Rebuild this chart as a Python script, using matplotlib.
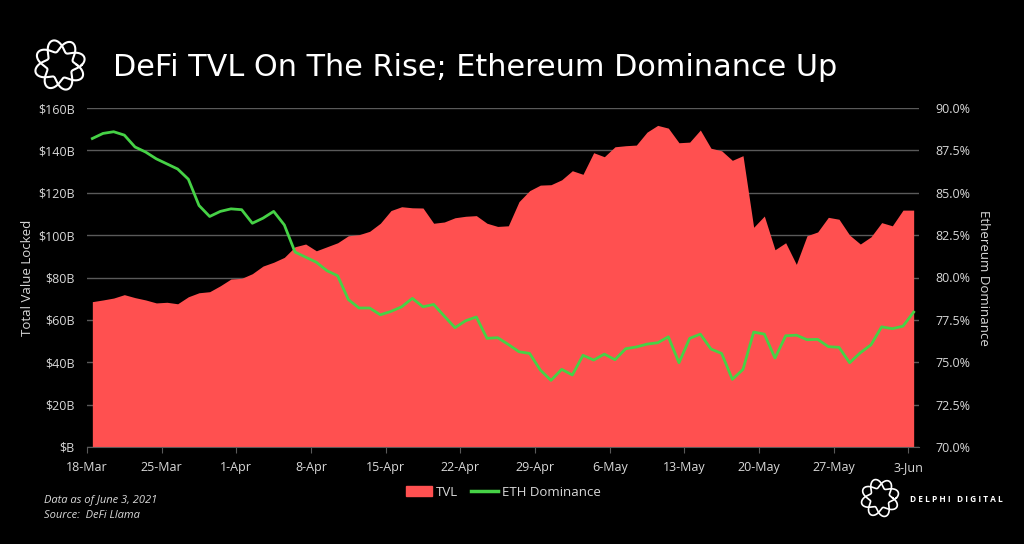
import numpy as np
import matplotlib
matplotlib.use("Agg")
import matplotlib.pyplot as plt
from matplotlib.lines import Line2D
from matplotlib.patches import Patch

# ---- data ----
dates = ["18-Mar", "25-Mar", "1-Apr", "8-Apr", "15-Apr", "22-Apr", "29-Apr",
         "6-May", "13-May", "20-May", "27-May", "3-Jun"]
tvl = [68.6, 69.4, 70.3, 71.9, 70.5, 69.4, 68.0, 68.3, 67.6, 70.9,
       72.8, 73.3, 76.1, 79.3, 79.6, 81.8, 85.4, 87.2, 89.5, 94.5,
       95.8, 92.6, 94.5, 96.4, 99.7, 100.2, 101.8, 105.6, 111.6, 113.4,
       112.9, 112.8, 105.6, 106.2, 108.2, 108.9, 109.2, 105.6, 104.1, 104.4,
       115.8, 121.0, 123.6, 123.8, 126.1, 130.4, 128.7, 138.9, 137.0, 141.7,
       142.2, 142.5, 148.6, 151.8, 150.5, 143.6, 143.9, 149.6, 141.0, 139.8,
       135.3, 137.5, 103.7, 109.0, 93.1, 96.4, 86.2, 99.7, 101.5, 108.4,
       107.5, 100.0, 95.8, 99.2, 105.9, 104.4, 111.8, 111.8]
eth = [88.2, 88.5, 88.6, 88.4, 87.7, 87.4, 87.0, 86.7, 86.4, 85.8,
       84.25, 83.6, 83.9, 84.05, 84.0, 83.2, 83.5, 83.9, 83.1, 81.5,
       81.2, 80.9, 80.4, 80.1, 78.7, 78.2, 78.2, 77.8, 78.0, 78.27,
       78.77, 78.27, 78.41, 77.72, 77.04, 77.45, 77.67, 76.41, 76.45, 76.05,
       75.62, 75.52, 74.54, 73.93, 74.58, 74.25, 75.41, 75.13, 75.48, 75.15,
       75.80, 75.90, 76.07, 76.15, 76.50, 74.97, 76.41, 76.66, 75.78, 75.52,
       73.99, 74.58, 76.78, 76.66, 75.25, 76.56, 76.60, 76.33, 76.35, 75.92,
       75.88, 74.97, 75.56, 76.03, 77.09, 76.98, 77.13, 77.96]
left_ticks = [0, 20, 40, 60, 80, 100, 120, 140, 160]
left_labels = ["$B", "$20B", "$40B", "$60B", "$80B", "$100B", "$120B", "$140B", "$160B"]
right_ticks = [70.0, 72.5, 75.0, 77.5, 80.0, 82.5, 85.0, 87.5, 90.0]

RED = "#FF5050"
GREEN = "#46D246"
GRID = "#5a5a5a"
TXT = "#d9d9d9"
FONT = ["Open Sans", "DejaVu Sans"]
plt.rcParams["font.family"] = FONT

fig = plt.figure(figsize=(10.24, 5.44), dpi=100, facecolor="black")
ax = fig.add_axes([87/1024, 1-447/544, 832/1024, 339/544])
ax.set_facecolor("black")
n = len(tvl)
x = np.arange(n) + 0.5
ax.fill_between(x, tvl, 0, color=RED, linewidth=0, zorder=2)
ax.set_xlim(0, n)
ax.set_ylim(0, 160)
ax.set_yticks(left_ticks)
ax.set_yticklabels(left_labels)
ax.grid(axis="y", color=GRID, linewidth=1.0, zorder=0)
ax.set_axisbelow(True)
ax.tick_params(axis="y", length=0, pad=9, labelcolor=TXT, labelsize=9)
ax.set_xticks(np.arange(0, n, 7))
ax.set_xticklabels(dates)
ax.tick_params(axis="x", length=4, color=GRID, pad=6, labelcolor=TXT, labelsize=9)
for s in ["top", "right", "left"]:
    ax.spines[s].set_visible(False)
ax.spines["bottom"].set_color(GRID)
ax.set_ylabel("Total Value Locked", color=TXT, fontsize=9.5, labelpad=3)

ax2 = ax.twinx()
ax2.plot(x, eth, color=GREEN, linewidth=2.0, zorder=3)
ax2.set_ylim(70, 90)
ax2.set_yticks(right_ticks)
ax2.set_yticklabels([f"{v:.1f}%" for v in right_ticks])
ax2.tick_params(axis="y", length=0, pad=12, labelcolor=TXT, labelsize=9)
for s in ["top", "right", "left", "bottom"]:
    ax2.spines[s].set_visible(False)
ax2.set_ylabel("Ethereum Dominance", color=TXT, fontsize=9.5, rotation=270, labelpad=14)

# legend
handles = [Patch(facecolor=RED, edgecolor=RED),
           Line2D([0], [0], color=GREEN, linewidth=2.5)]
leg = fig.legend(handles, ["TVL", "ETH Dominance"], loc="center",
                 bbox_to_anchor=(503/1024, 1-492/544), ncol=2, frameon=False,
                 fontsize=9.5, labelcolor=TXT, handlelength=2.0, handletextpad=0.3,
                 columnspacing=1.0)

# title
fig.text(113/1024, 1-67/544, "DeFi TVL On The Rise; Ethereum Dominance Up",
         color="white", fontsize=21.8, va="center", ha="left",
         family=["DejaVu Sans"])

# footnotes
fig.text(44/1024, 1-501/544, "Data as of June 3, 2021", color=TXT, fontsize=8,
         style="italic", va="center")
fig.text(44/1024, 1-516/544, "Source:  DeFi Llama", color=TXT, fontsize=8,
         style="italic", va="center")

def logo(cx, cy, size, lw):
    lax = fig.add_axes([(cx-size)/1024, 1-(cy+size)/544, 2*size/1024, 2*size/544])
    lax.set_xlim(-1.1, 1.1)
    lax.set_ylim(-1.1, 1.1)
    lax.axis("off")
    th = np.linspace(0, 2*np.pi, 600)
    for sgn in (1, -1):
        r = 0.76 + sgn*0.24*np.sin(4*th + np.pi/8)
        lax.plot(r*np.cos(th), r*np.sin(th), color="white", linewidth=lw)

logo(60, 65, 28, 1.5)
logo(880, 498, 21, 1.2)
fig.text(910/1024, 1-499/544, "D E L P H I   D I G I T A L", color="white", fontsize=6,
         fontweight="bold", va="center", ha="left")

fig.savefig("out.png", dpi=100, facecolor="black")
